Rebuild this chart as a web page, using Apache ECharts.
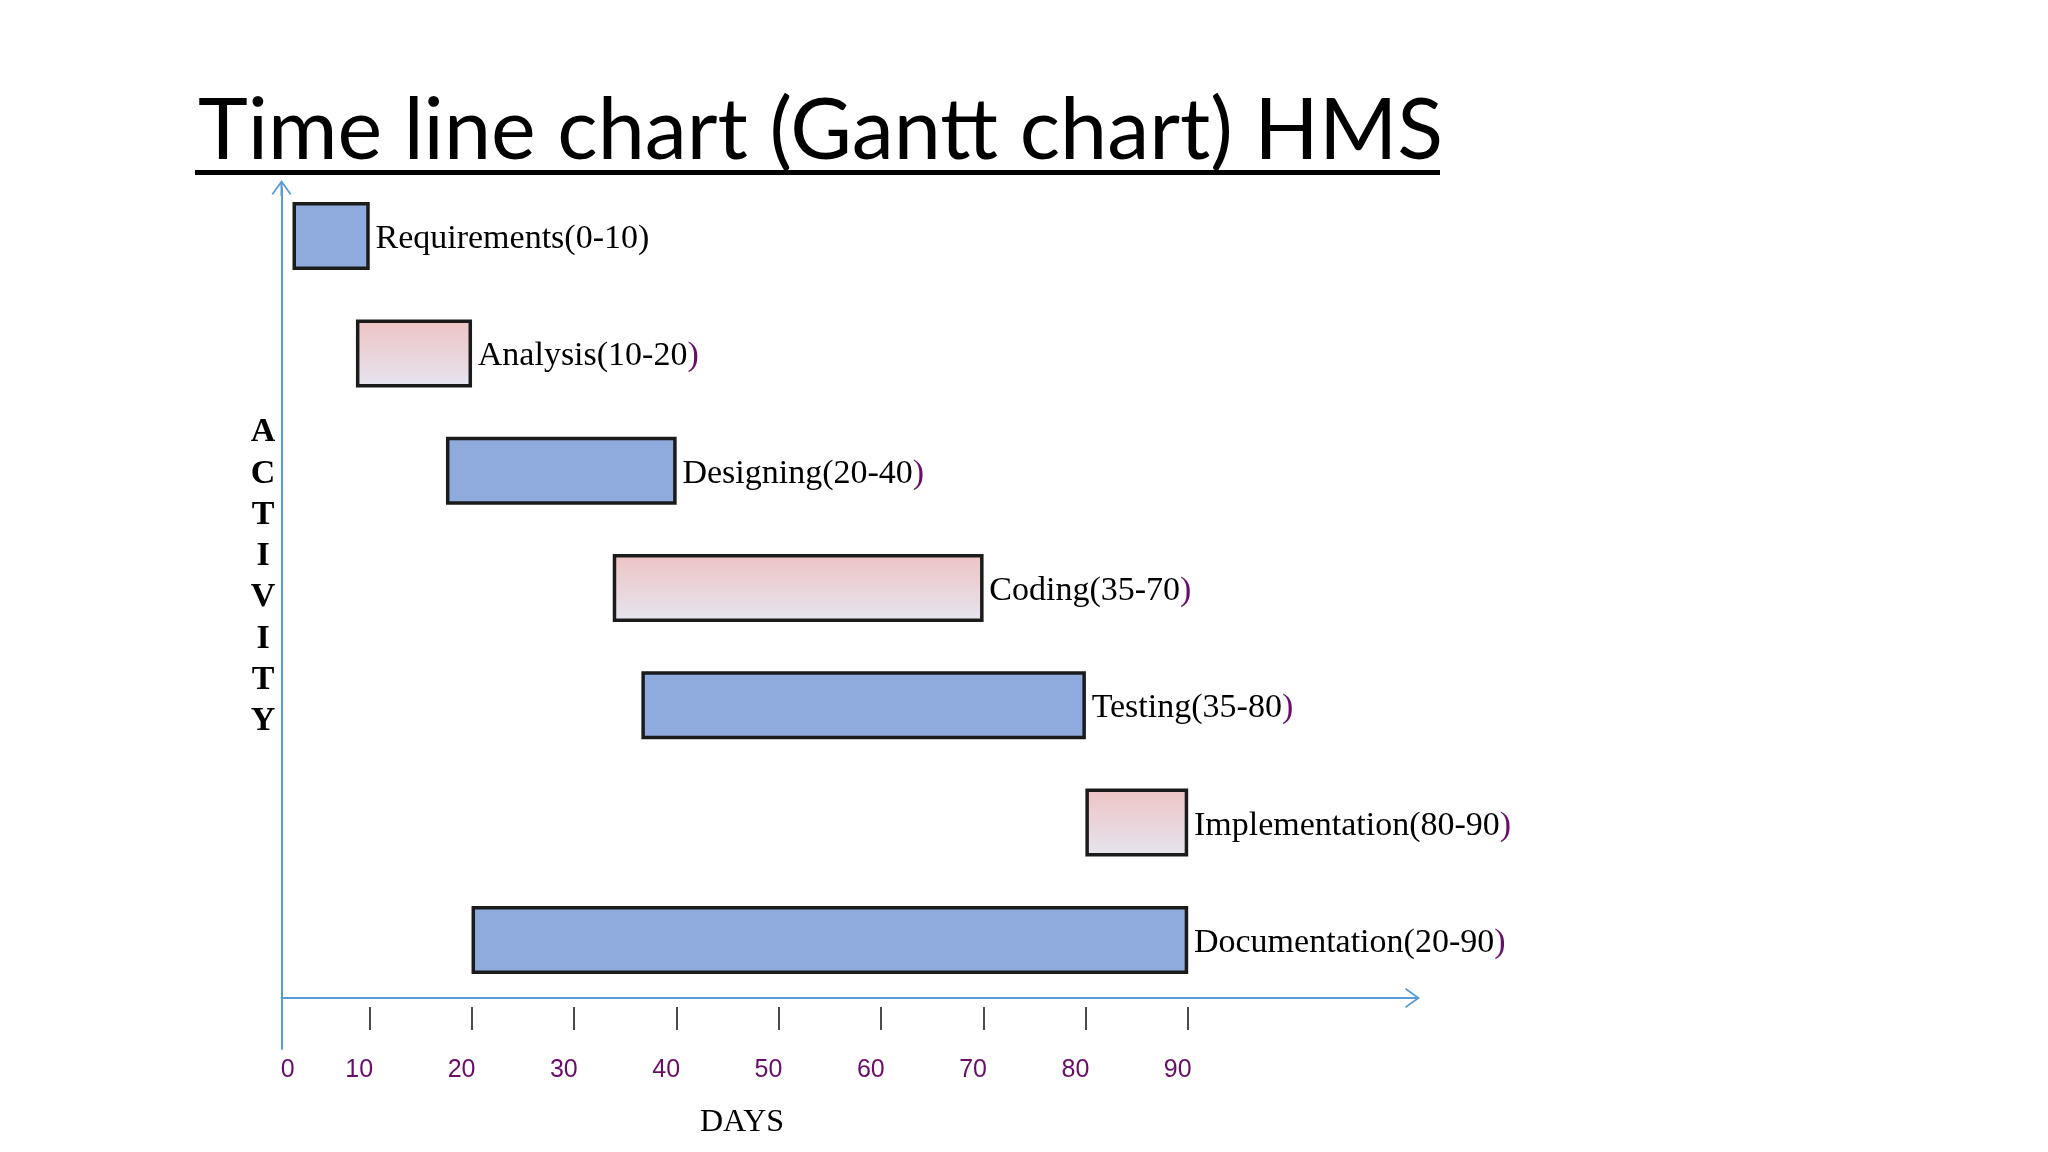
<!DOCTYPE html>
<html>
<head>
<meta charset="utf-8">
<title>Time line chart (Gantt chart) HMS</title>
<script src="https://cdn.jsdelivr.net/npm/echarts@6/dist/echarts.min.js"></script>
<style>
  html, body { margin: 0; padding: 0; background: #ffffff; }
  #chart { width: 2048px; height: 1152px; }
</style>
</head>
<body>
<div id="chart"></div>
<script>
// activities, top to bottom
const TASKS = ['Requirements', 'Analysis', 'Designing', 'Coding', 'Testing', 'Implementation', 'Documentation'];
// ranges as written in the labels
const RANGE_FROM = [0, 10, 20, 35, 35, 80, 20];
const RANGE_TO = [10, 20, 40, 70, 80, 90, 90];
// bars as drawn against the day ticks (the picture is hand drawn)
const BAR_START = [2.5, 8.7, 17.5, 33.8, 36.6, 80, 20];
const BAR_END = [10, 20, 40, 70, 80, 90, 90];

const TICK_DAYS = [10, 20, 30, 40, 50, 60, 70, 80, 90];
const LABEL_DAYS = [2, 9, 19, 29, 39, 49, 59, 69, 79, 89];
const LABEL_TEXT = ['0', '10', '20', '30', '40', '50', '60', '70', '80', '90'];

const AXIS_BLUE = '#5b9bd5';
const PURPLE = '#6a0d6a';
const BLUE_FILL = '#8faadc';
const SERIF = '"Liberation Serif", "Times New Roman", serif';

// open chevron with a short stem, tip at top
const ARROW = 'path://M10,0 L20,14 L18.6,15 L11,4.5 L11,16 L9,16 L9,4.5 L1.4,15 L0,14 Z';

const X_MIN = 1.4;
const X_MAX = 111.9;
const Y_MIN = -0.93;
const Y_MAX = 6.41;

const n = TASKS.length;
const rows = TASKS.map((t, i) => [BAR_START[i], BAR_END[i], n - 1 - i, i]);

const chart = echarts.init(document.getElementById('chart'));

const pinkFill = () => new echarts.graphic.LinearGradient(0, 0, 0, 1, [
    { offset: 0, color: '#eec3c4' },
    { offset: 1, color: '#e5e5ef' },
]);

function renderBar(params, api) {
    const i = api.value(3);
    const p0 = api.coord([api.value(0), api.value(2)]);
    const p1 = api.coord([api.value(1), api.value(2)]);
    const h = api.size([0, 1])[1] * 0.55;
    // first label keeps a black closing bracket, the rest are purple
    const paren = i === 0 ? 'b' : 'p';
    const text = `{n|${TASKS[i]}(${RANGE_FROM[i]}-${RANGE_TO[i]}}{${paren}|)}`;
    return {
        type: 'group',
        children: [
            {
                type: 'rect',
                shape: { x: p0[0] + 1.5, y: p0[1] - h / 2, width: p1[0] - p0[0] - 3, height: h },
                style: { fill: i % 2 === 0 ? BLUE_FILL : pinkFill(), stroke: '#1b1b1b', lineWidth: 3.5 },
            },
            {
                type: 'text',
                x: p1[0] + 6,
                y: p0[1] + 3,
                style: {
                    text,
                    align: 'left',
                    verticalAlign: 'middle',
                    font: `34px ${SERIF}`,
                    fill: '#000',
                    rich: {
                        n: { font: `34px ${SERIF}`, fill: '#000' },
                        b: { font: `34px ${SERIF}`, fill: '#000' },
                        p: { font: `34px ${SERIF}`, fill: PURPLE },
                    },
                },
            },
        ],
    };
}

const option = {
    backgroundColor: '#ffffff',
    animation: false,
    title: {
        text: 'Time line chart (Gantt chart) HMS',
        left: 193,
        top: 79,
        textStyle: { fontFamily: 'Lato', fontSize: 84.5, fontWeight: 'normal', color: '#000', lineHeight: 96 },
    },
    graphic: [
        { type: 'rect', shape: { x: 195, y: 170, width: 1245, height: 5 }, style: { fill: '#000' } },
        {
            type: 'text', x: 263, y: 577,
            style: {
                text: 'A\nC\nT\nI\nV\nI\nT\nY', align: 'center', verticalAlign: 'middle',
                font: `bold 34px ${SERIF}`, lineHeight: 41.3, fill: '#000',
            },
        },
        {
            type: 'text', x: 742, y: 1123,
            style: { text: 'DAYS', align: 'center', verticalAlign: 'middle', font: `32px ${SERIF}`, fill: '#000' },
        },
    ],
    grid: { left: 281.5, right: 636, top: 188, bottom: 103, containLabel: false },
    xAxis: [
        {
            type: 'value', min: X_MIN, max: X_MAX, offset: -51,
            axisLine: { show: true, onZero: false, symbol: ['none', ARROW], symbolSize: [20, 16], lineStyle: { color: AXIS_BLUE, width: 2 } },
            axisTick: { show: false },
            axisLabel: { show: false },
            splitLine: { show: false },
        },
        {
            type: 'value', min: X_MIN, max: X_MAX, offset: -42, position: 'bottom',
            axisLine: { show: false, onZero: false },
            axisTick: { show: true, customValues: TICK_DAYS, length: 23, lineStyle: { color: '#111', width: 1.5 } },
            axisLabel: {
                show: true, customValues: LABEL_DAYS, margin: 51,
                formatter: v => LABEL_TEXT[LABEL_DAYS.indexOf(v)],
                fontFamily: '"Liberation Sans", Arial, sans-serif', fontSize: 25, color: PURPLE,
            },
            splitLine: { show: false },
        },
    ],
    yAxis: {
        type: 'value', min: Y_MIN, max: Y_MAX,
        axisLine: { show: true, onZero: false, symbol: ['none', ARROW], symbolSize: [20, 16], lineStyle: { color: AXIS_BLUE, width: 2 } },
        axisTick: { show: false },
        axisLabel: { show: false },
        splitLine: { show: false },
    },
    series: [
        {
            type: 'custom',
            xAxisIndex: 0,
            yAxisIndex: 0,
            renderItem: renderBar,
            encode: { x: [0, 1], y: 2 },
            data: rows,
            clip: false,
        },
    ],
};

chart.setOption(option);
</script>
</body>
</html>
